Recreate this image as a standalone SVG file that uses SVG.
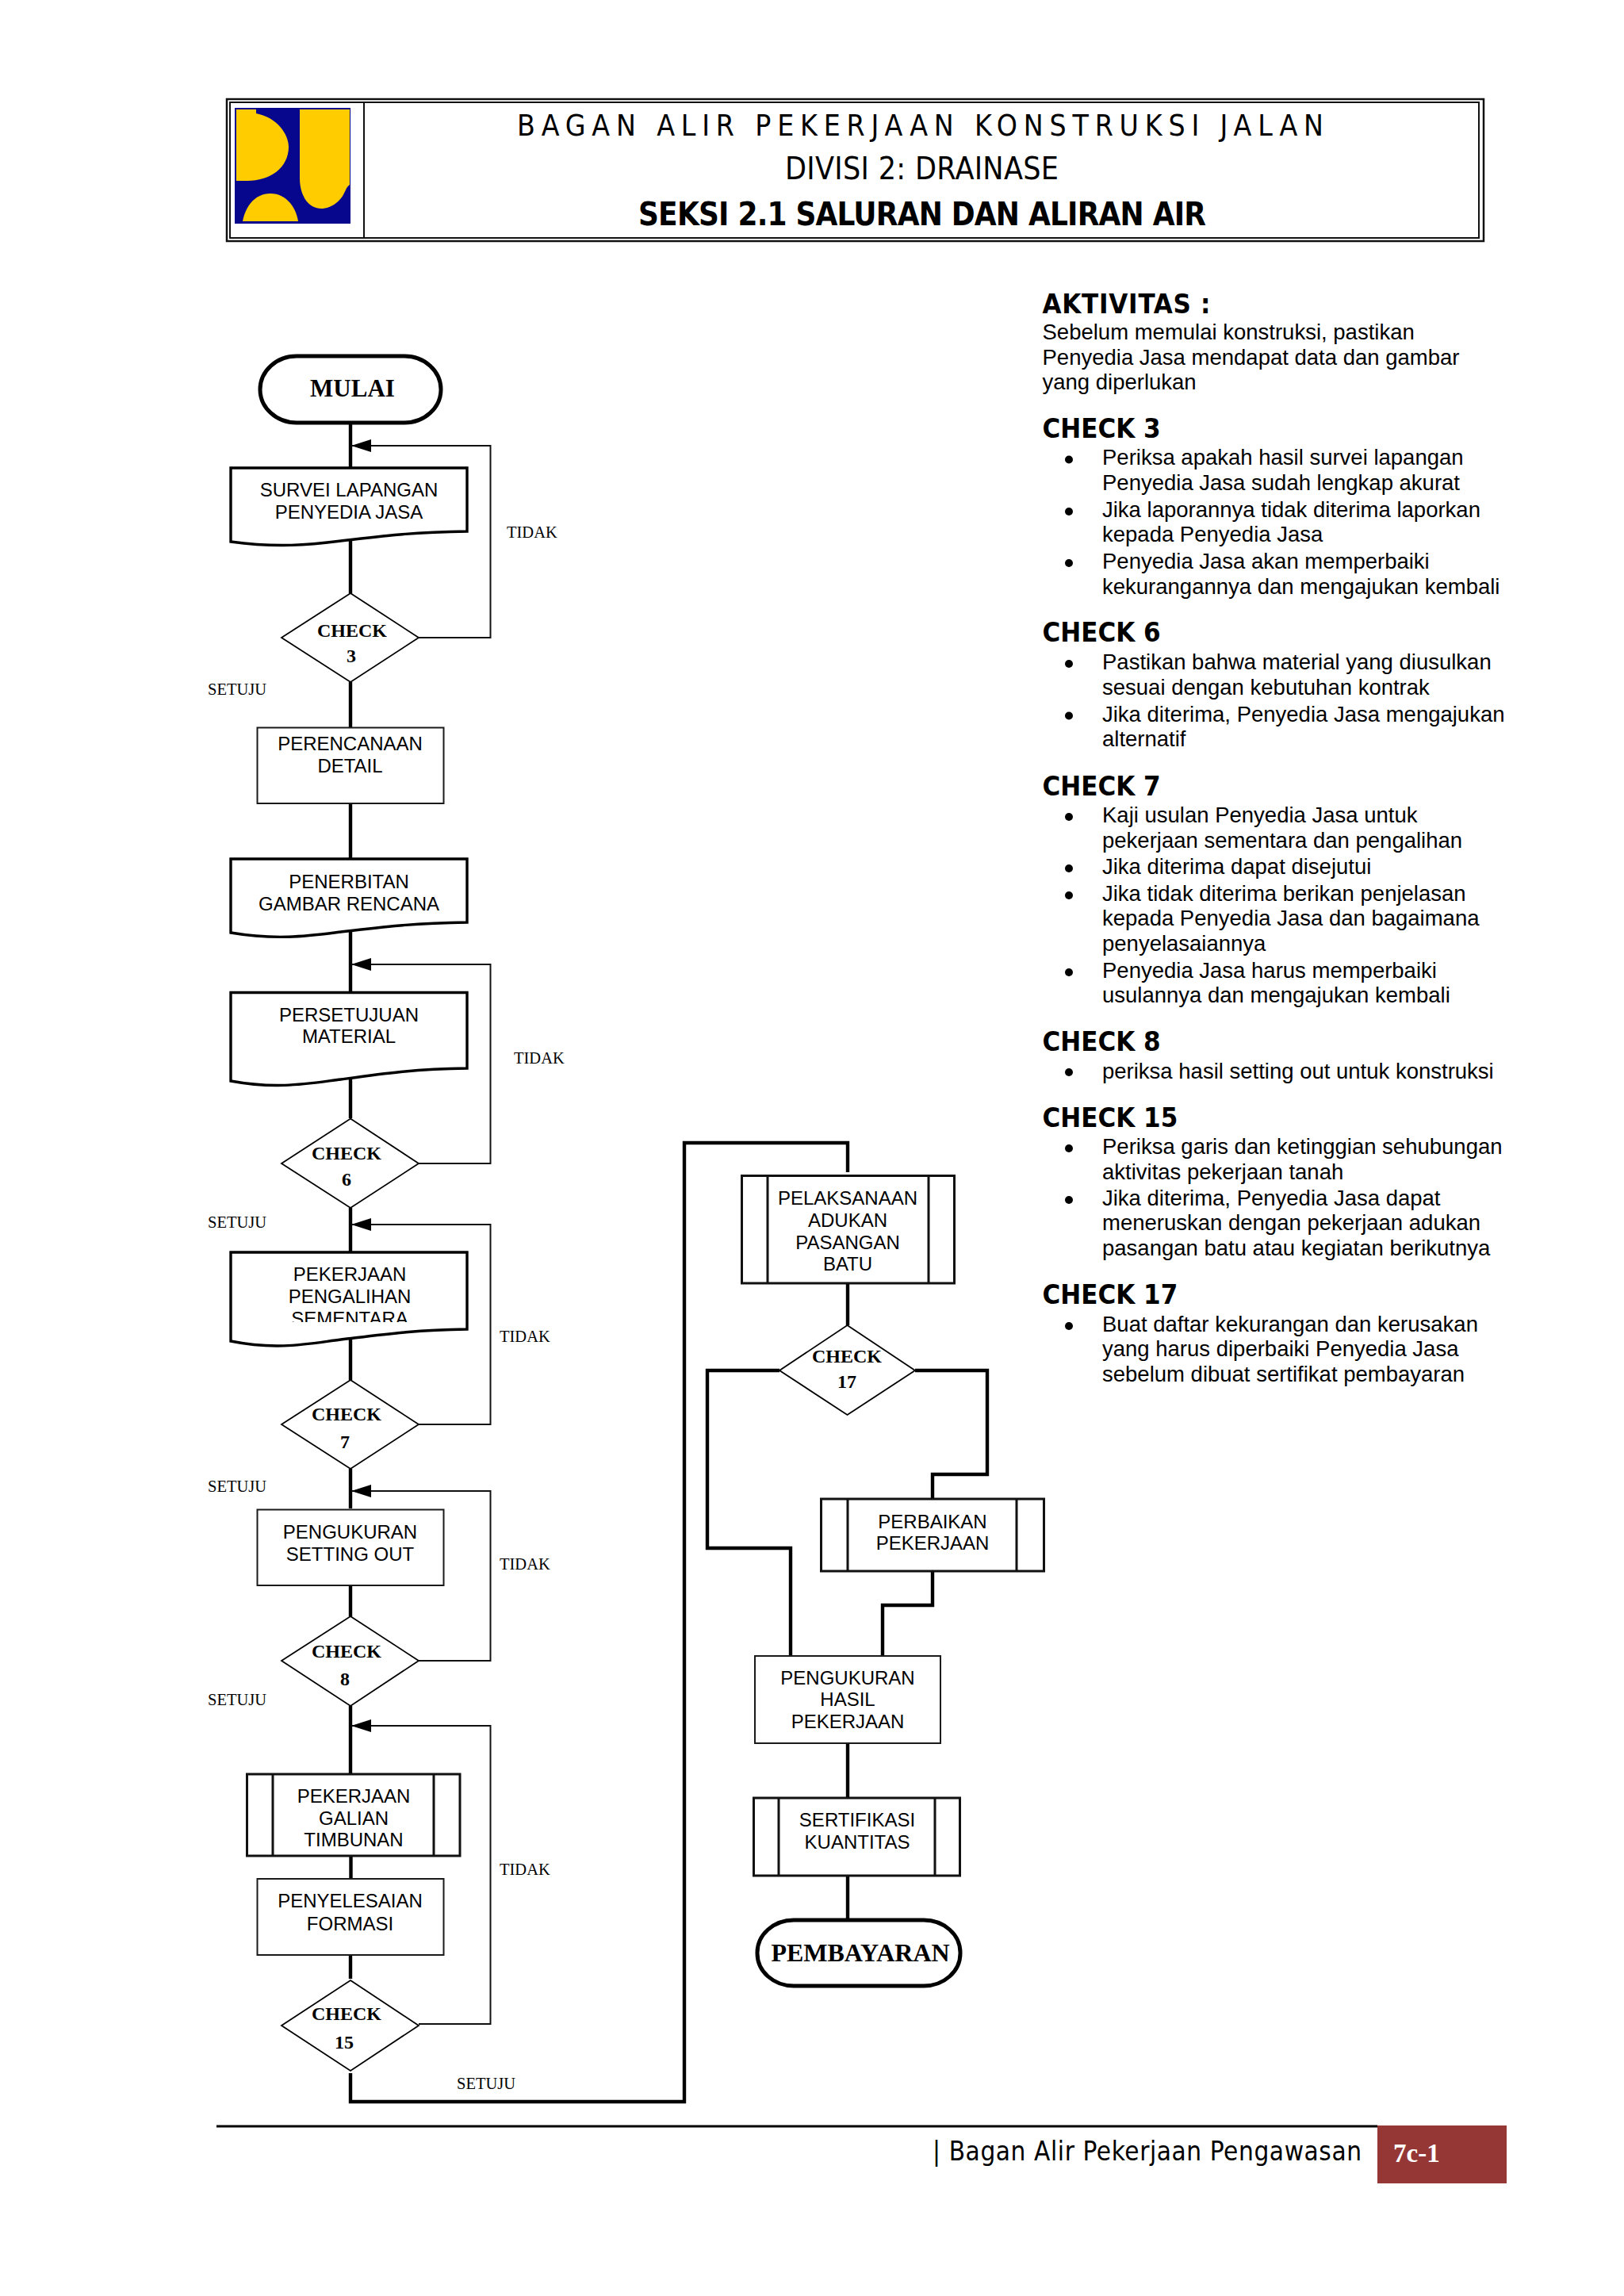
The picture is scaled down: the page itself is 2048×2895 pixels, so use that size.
<svg xmlns="http://www.w3.org/2000/svg" width="2048" height="2895" viewBox="0 0 2048 2895">
<style>
text{fill:#000;font-family:"Liberation Sans",Arial,sans-serif}
.n{font-size:24px;text-anchor:middle}
.b{font-size:27.5px}
.h,.t1,.t2,.t3,.f{font-family:"DejaVu Sans",sans-serif;font-stretch:condensed}
.h{font-size:34.500px;font-weight:700}
.t1{font-size:37px}
.t2{font-size:39px}
.t3{font-size:40px;font-weight:700}
.f{font-size:33px}
.c,.l,.term{font-family:"Liberation Serif","Times New Roman",serif}
.c{font-size:24px;font-weight:700;text-anchor:middle}
.l{font-size:20.5px}
.term{font-weight:700;text-anchor:middle}
.box{fill:#fff;stroke:#1a1a1a;stroke-width:2}
.doc{fill:#fff;stroke:#000;stroke-width:3.4}
.pre{fill:#fff;stroke:#111;stroke-width:3}
.dia{fill:#fff;stroke:#000;stroke-width:1.8}
.ter{fill:#fff;stroke:#000;stroke-width:5}
.thick{fill:none;stroke:#000;stroke-width:4.4}
.thin{fill:none;stroke:#111;stroke-width:2}
.bul{fill:#000}
</style>
<defs>
<marker id="arr" markerUnits="userSpaceOnUse" markerWidth="25" markerHeight="16" viewBox="0 0 25 16" refX="25" refY="8" orient="auto"><path d="M0,0L25,8L0,16Z" fill="#000"/></marker>
<clipPath id="clipSem"><rect x="300" y="1640" width="280" height="27"/></clipPath>
</defs>
<rect width="2048" height="2895" fill="#fff"/>

<g id="header">
<rect x="286" y="125" width="1585" height="179" fill="none" stroke="#111" stroke-width="2.5"/>
<rect x="290" y="129" width="1575" height="171" fill="none" stroke="#111" stroke-width="2"/>
<line x1="459" y1="129" x2="459" y2="300" stroke="#111" stroke-width="2"/>
<g id="logo">
<rect x="296" y="136" width="146" height="146" fill="#07078e"/>
<path d="M298,138H323V143C350,148 364,170 364,185C364,212 340,228 312,228H298Z" fill="#fc0"/>
<path d="M378,138H441V233C436,236 435,244 430,250C422,260 412,263 405,263C388,263 378,245 378,225Z" fill="#fc0"/>
<path d="M306,279C310,258 323,244 341,244C360,244 373,260 376,279Z" fill="#fc0"/>
</g>
<text class="t1" x="652" y="171" textLength="1017">BAGAN ALIR PEKERJAAN KONSTRUKSI JALAN</text>
<text class="t2" x="990" y="226" textLength="345">DIVISI 2: DRAINASE</text>
<text class="t3" x="805" y="284" textLength="716">SEKSI 2.1 SALURAN DAN ALIRAN AIR</text>
</g>

<g id="connectors">
<path class="thick" d="M442,534V590M442,680V748M442,860V917M442,1013V1083M442,1172V1251M442,1358V1410M442,1523V1579M442,1685V1740M442,1852V1902M442,1999V2038M442,2151V2237M442.500,2340V2369M442,2465V2495"/>
<path class="thick" d="M442,2614V2650H863V1441H1069V1478"/>
<path class="thick" d="M1069,1618V1671M983,1728H892V1952H997V2087M1154,1728H1245V1859H1176V1890M1176,1981V2024H1113V2087M1069,2198V2267M1069,2365V2420"/>
<path class="thin" marker-end="url(#arr)" d="M528,804H618.500V562H443"/>
<path class="thin" marker-end="url(#arr)" d="M528,1467H618.500V1216H443"/>
<path class="thin" marker-end="url(#arr)" d="M528,1796H618.500V1544H443"/>
<path class="thin" marker-end="url(#arr)" d="M528,2094H618.500V1880H443"/>
<path class="thin" marker-end="url(#arr)" d="M528,2552H618.500V2176H443"/>
</g>

<g id="mulai"><rect class="ter" x="328" y="449" width="228" height="84" rx="46" ry="42"/><text class="term" style="font-size:31px" x="444.500" y="500">MULAI</text></g>
<g id="survei"><path class="doc" d="M291,590H589V670C520,671 480,676 430,682C390,687 350,691 291,683Z"/><text class="n" x="440" y="626">SURVEI LAPANGAN</text><text class="n" x="440" y="654">PENYEDIA JASA</text></g>
<g id="check3"><path class="dia" d="M442,748L528,804L442,860L355,804Z"/><text class="c" x="444" y="802.500">CHECK</text><text class="c" x="443" y="835">3</text></g>
<g id="perencanaan"><rect class="box" x="324.500" y="917.500" width="235" height="95.500"/><text class="n" x="441.500" y="945.500">PERENCANAAN</text><text class="n" x="441.500" y="974">DETAIL</text></g>
<g id="penerbitan"><path class="doc" d="M291,1083H589V1163C520,1164 480,1169 430,1175C390,1180 350,1186 291,1176Z"/><text class="n" x="440" y="1120">PENERBITAN</text><text class="n" x="440" y="1148">GAMBAR RENCANA</text></g>
<g id="persetujuan"><path class="doc" d="M291,1251.500H589V1347C520,1348 480,1354 430,1361C390,1366 350,1374 291,1363Z"/><text class="n" x="440" y="1288">PERSETUJUAN</text><text class="n" x="440" y="1315">MATERIAL</text></g>
<g id="check6"><path class="dia" d="M442,1410.500L528,1467L442,1523L355,1467Z"/><text class="c" x="437" y="1462">CHECK</text><text class="c" x="437" y="1494.500">6</text></g>
<g id="pengalihan"><path class="doc" d="M291,1579H589V1676C520,1677 480,1683 430,1689C390,1694 350,1703 291,1691Z"/><text class="n" x="441" y="1615">PEKERJAAN</text><text class="n" x="441" y="1643">PENGALIHAN</text><text class="n" x="441" y="1671" clip-path="url(#clipSem)">SEMENTARA</text></g>
<g id="check7"><path class="dia" d="M442,1740L528,1796L442,1852L355,1796Z"/><text class="c" x="437" y="1791">CHECK</text><text class="c" x="435" y="1825.500">7</text></g>
<g id="setting"><rect class="box" x="324.500" y="1903.500" width="235" height="95.500"/><text class="n" x="441.500" y="1940">PENGUKURAN</text><text class="n" x="441.500" y="1968">SETTING OUT</text></g>
<g id="check8"><path class="dia" d="M442,2038L528,2094L442,2151L355,2094Z"/><text class="c" x="437" y="2090">CHECK</text><text class="c" x="435" y="2125">8</text></g>
<g id="galian"><rect class="pre" x="311.500" y="2237" width="268.500" height="103"/><path class="pre" d="M344,2237V2340M547,2237V2340"/><text class="n" x="446" y="2273">PEKERJAAN</text><text class="n" x="446" y="2300.500">GALIAN</text><text class="n" x="446" y="2327.500">TIMBUNAN</text></g>
<g id="formasi"><rect class="box" x="324.500" y="2369" width="235" height="96"/><text class="n" x="441.500" y="2405">PENYELESAIAN</text><text class="n" x="441.500" y="2434">FORMASI</text></g>
<g id="check15"><path class="dia" d="M442,2497L528,2554L442,2611L355,2554Z"/><text class="c" x="437" y="2547">CHECK</text><text class="c" x="434" y="2582.500">15</text></g>
<g id="pelaksanaan"><rect class="pre" x="935.500" y="1482.500" width="268" height="135.500"/><path class="pre" d="M968,1482.500V1618M1171,1482.500V1618"/><text class="n" x="1069" y="1519">PELAKSANAAN</text><text class="n" x="1069" y="1547">ADUKAN</text><text class="n" x="1069" y="1574.500">PASANGAN</text><text class="n" x="1069" y="1602">BATU</text></g>
<g id="check17"><path class="dia" d="M1068.500,1671L1154,1728L1068.500,1784L983,1728Z"/><text class="c" x="1068" y="1717.500">CHECK</text><text class="c" x="1068" y="1750">17</text></g>
<g id="perbaikan"><rect class="pre" x="1035.500" y="1890" width="281" height="91"/><path class="pre" d="M1069,1890V1981M1282,1890V1981"/><text class="n" x="1176" y="1927">PERBAIKAN</text><text class="n" x="1176" y="1954">PEKERJAAN</text></g>
<g id="hasil"><rect class="box" x="952" y="2088" width="234" height="110"/><text class="n" x="1069" y="2123.500">PENGUKURAN</text><text class="n" x="1069" y="2151">HASIL</text><text class="n" x="1069" y="2178.500">PEKERJAAN</text></g>
<g id="sertifikasi"><rect class="pre" x="950.500" y="2267" width="260" height="98"/><path class="pre" d="M982,2267V2365M1179,2267V2365"/><text class="n" x="1081" y="2303">SERTIFIKASI</text><text class="n" x="1081" y="2331">KUANTITAS</text></g>
<g id="pembayaran"><rect class="ter" x="955" y="2421" width="256" height="83" rx="46" ry="41"/><text class="term" style="font-size:32px" x="1085" y="2473">PEMBAYARAN</text></g>

<g id="labels">
<text class="l" x="639" y="678">TIDAK</text>
<text class="l" x="648" y="1341">TIDAK</text>
<text class="l" x="630" y="1692">TIDAK</text>
<text class="l" x="630" y="1979">TIDAK</text>
<text class="l" x="630" y="2364">TIDAK</text>
<text class="l" x="262" y="876">SETUJU</text>
<text class="l" x="262" y="1548">SETUJU</text>
<text class="l" x="262" y="1881">SETUJU</text>
<text class="l" x="262" y="2149.500">SETUJU</text>
<text class="l" x="576" y="2634">SETUJU</text>
</g>

<g id="aktivitas">
<text class="h" x="1314.500" y="395" textLength="212">AKTIVITAS :</text>
<text class="b" x="1314.500" y="428">Sebelum memulai konstruksi, pastikan</text>
<text class="b" x="1314.500" y="459.500">Penyedia Jasa mendapat data dan gambar</text>
<text class="b" x="1314.500" y="491">yang diperlukan</text>
<text class="h" x="1314.500" y="552">CHECK 3</text>
<circle class="bul" cx="1348" cy="579.500" r="5"/><text class="b" x="1390" y="586">Periksa apakah hasil survei lapangan</text>
<text class="b" x="1390" y="618">Penyedia Jasa sudah lengkap akurat</text>
<circle class="bul" cx="1348" cy="645" r="5"/><text class="b" x="1390" y="652">Jika laporannya tidak diterima laporkan</text>
<text class="b" x="1390" y="683">kepada Penyedia Jasa</text>
<circle class="bul" cx="1348" cy="710" r="5"/><text class="b" x="1390" y="717">Penyedia Jasa akan memperbaiki</text>
<text class="b" x="1390" y="749">kekurangannya dan mengajukan kembali</text>
<text class="h" x="1314.500" y="809">CHECK 6</text>
<circle class="bul" cx="1348" cy="837" r="5"/><text class="b" x="1390" y="844">Pastikan bahwa material yang diusulkan</text>
<text class="b" x="1390" y="875.500">sesuai dengan kebutuhan kontrak</text>
<circle class="bul" cx="1348" cy="902.500" r="5"/><text class="b" x="1390" y="909.500">Jika diterima, Penyedia Jasa mengajukan</text>
<text class="b" x="1390" y="941">alternatif</text>
<text class="h" x="1314.500" y="1002.500">CHECK 7</text>
<circle class="bul" cx="1348" cy="1030" r="5"/><text class="b" x="1390" y="1037">Kaji usulan Penyedia Jasa untuk</text>
<text class="b" x="1390" y="1068.500">pekerjaan sementara dan pengalihan</text>
<circle class="bul" cx="1348" cy="1095" r="5"/><text class="b" x="1390" y="1102">Jika diterima dapat disejutui</text>
<circle class="bul" cx="1348" cy="1129" r="5"/><text class="b" x="1390" y="1136">Jika tidak diterima berikan penjelasan</text>
<text class="b" x="1390" y="1167">kepada Penyedia Jasa dan bagaimana</text>
<text class="b" x="1390" y="1199">penyelasaiannya</text>
<circle class="bul" cx="1348" cy="1226" r="5"/><text class="b" x="1390" y="1233">Penyedia Jasa harus memperbaiki</text>
<text class="b" x="1390" y="1264">usulannya dan mengajukan kembali</text>
<text class="h" x="1314.500" y="1324.500">CHECK 8</text>
<circle class="bul" cx="1348" cy="1352" r="5"/><text class="b" x="1390" y="1360">periksa hasil setting out untuk konstruksi</text>
<text class="h" x="1314.500" y="1420.500">CHECK 15</text>
<circle class="bul" cx="1348" cy="1448" r="5"/><text class="b" x="1390" y="1455">Periksa garis dan ketinggian sehubungan</text>
<text class="b" x="1390" y="1486.500">aktivitas pekerjaan tanah</text>
<circle class="bul" cx="1348" cy="1513" r="5"/><text class="b" x="1390" y="1520">Jika diterima, Penyedia Jasa dapat</text>
<text class="b" x="1390" y="1551">meneruskan dengan pekerjaan adukan</text>
<text class="b" x="1390" y="1583">pasangan batu atau kegiatan berikutnya</text>
<text class="h" x="1314.500" y="1644">CHECK 17</text>
<circle class="bul" cx="1348" cy="1672" r="5"/><text class="b" x="1390" y="1679">Buat daftar kekurangan dan kerusakan</text>
<text class="b" x="1390" y="1710">yang harus diperbaiki Penyedia Jasa</text>
<text class="b" x="1390" y="1742">sebelum dibuat sertifikat pembayaran</text>
</g>

<g id="footer">
<line x1="273" y1="2681" x2="1737" y2="2681" stroke="#000" stroke-width="3"/>
<rect x="1737" y="2680" width="163" height="73" fill="#953735"/>
<text class="f" x="1176" y="2724" textLength="541">| Bagan Alir Pekerjaan Pengawasan</text>
<text style="font-family:'Liberation Serif',serif;font-size:33px;font-weight:700;fill:#fff" x="1757" y="2726">7c-1</text>
</g>
</svg>
